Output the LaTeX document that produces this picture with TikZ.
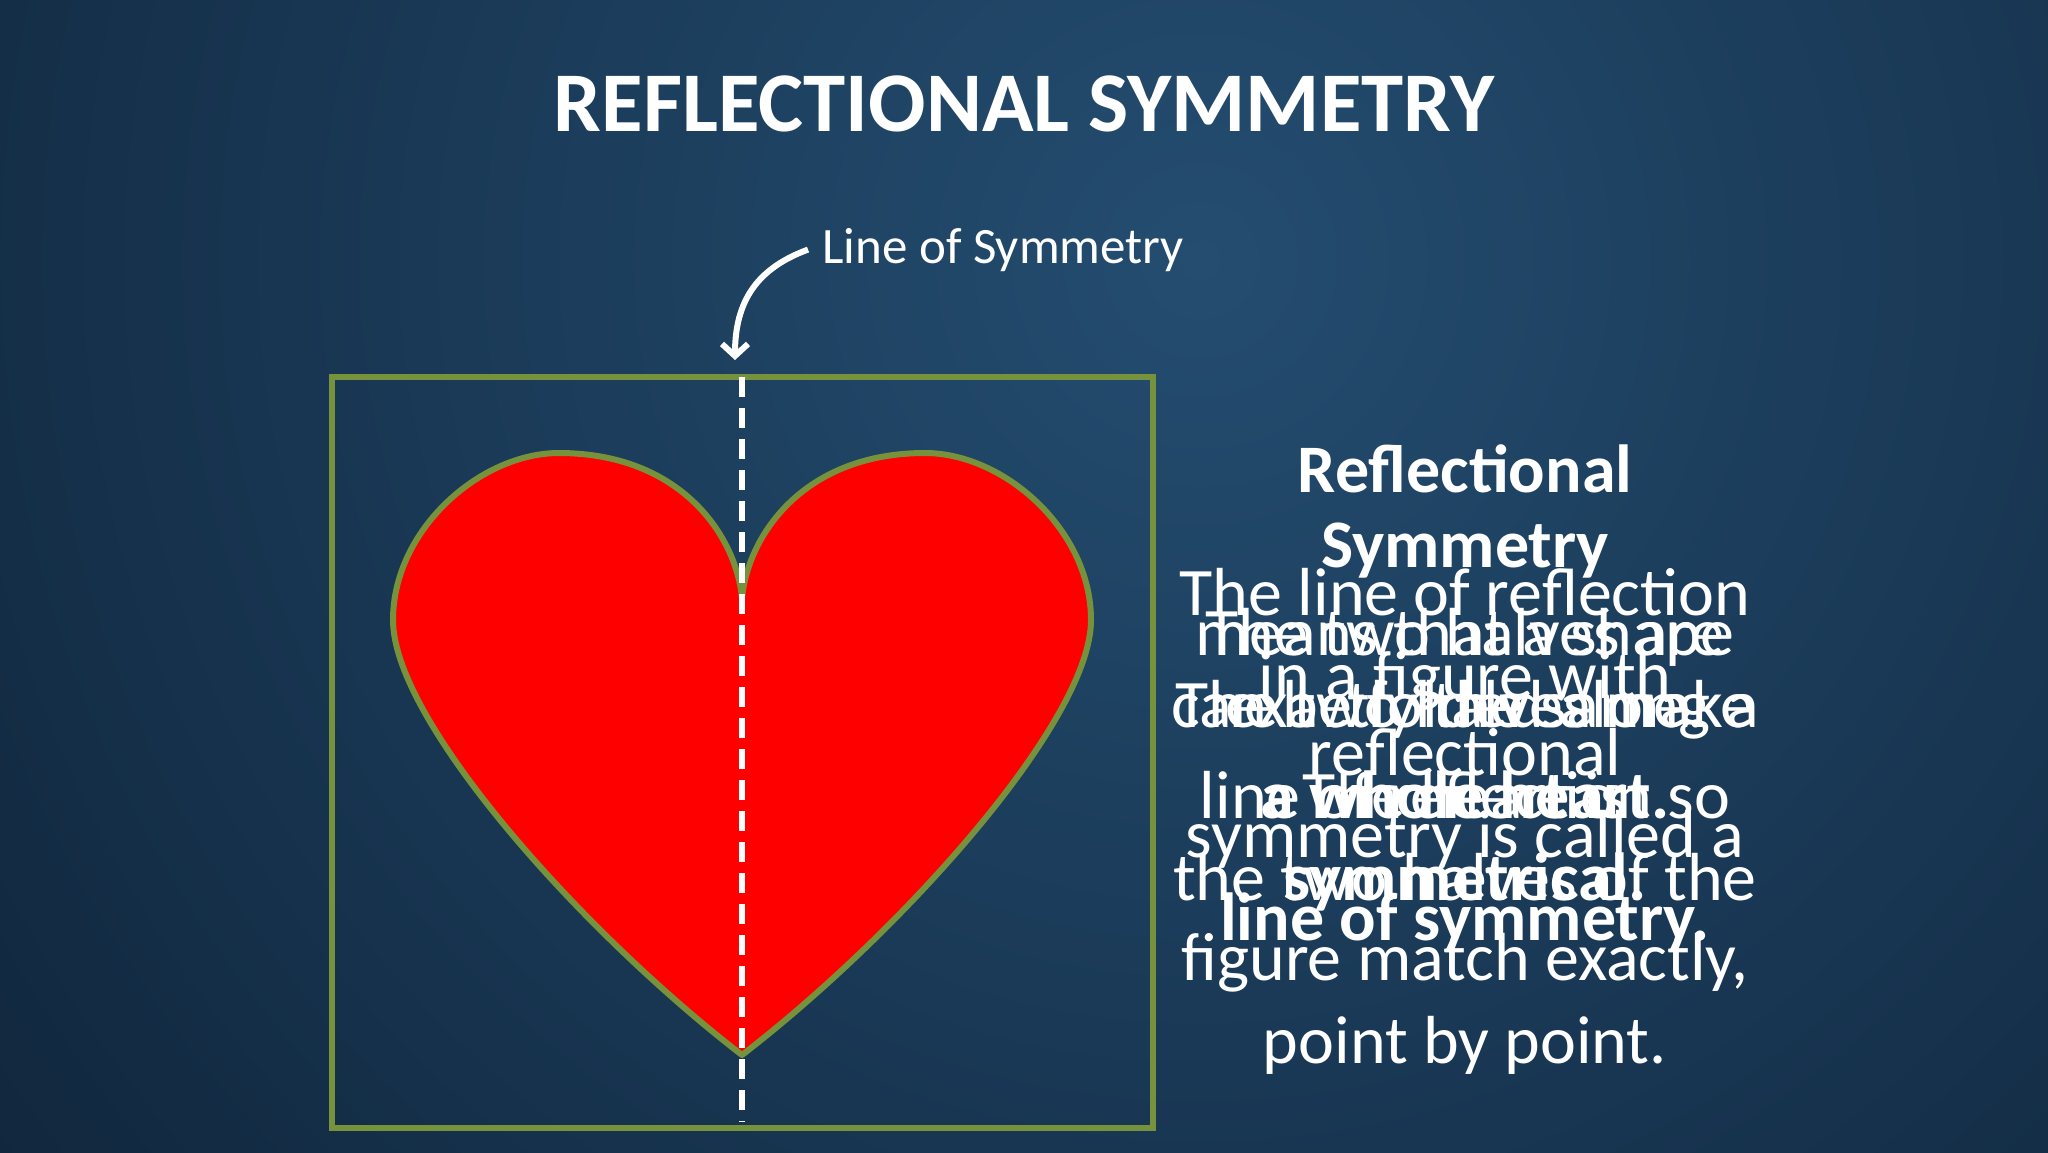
\documentclass[tikz,border=0pt]{standalone}
\usepackage{fontspec}
\setmainfont{Carlito}
\usetikzlibrary{arrows.meta}

\definecolor{bgin}{RGB}{36,77,112}
\definecolor{bgmid}{RGB}{22,50,77}
\definecolor{bgout}{RGB}{9,22,36}
\definecolor{framegreen}{RGB}{118,146,60}
\definecolor{heartred}{RGB}{255,0,0}

\pgfdeclareradialshading{slidebg}{\pgfpoint{0bp}{0bp}}{color(0bp)=(bgin); color(12bp)=(bgmid); color(25bp)=(bgout); color(50bp)=(bgout)}

\begin{document}
\begin{tikzpicture}[x=0.5pt, y=-0.5pt,
  slidetitle/.style={text=white, anchor=base, inner sep=0pt, font=\fontsize{42.5}{50}\selectfont\bfseries},
  headtxt/.style={text=white, anchor=base, inner sep=0pt, font=\fontsize{34}{40}\selectfont\bfseries},
  bodytxt/.style={text=white, anchor=base, inner sep=0pt, font=\fontsize{34}{40}\selectfont},
  lbltxt/.style={text=white, anchor=base west, inner xsep=7pt, inner ysep=0pt, font=\fontsize{25.5}{30}\selectfont},
  frameline/.style={draw=framegreen, line width=2.6pt},
  heartshape/.style={fill=heartred, draw=framegreen, line width=3pt, line join=round},
  axisline/.style={draw=white, line width=3pt, dash pattern=on 10pt off 5.5pt},
  symarrow/.style={draw=white, line width=3pt, -{Straight Barb[length=6pt, width=13pt]}}
]
\useasboundingbox (0,0) rectangle (2048,1152);
\clip (0,0) rectangle (2048,1152);

% background
\fill[bgout] (0,0) rectangle (2048,1152);
\shade[shading=slidebg] (1200,260) circle (2200);

% title
\node[slidetitle] (title) at (1024,131) {REFLECTIONAL SYMMETRY};

% frame and heart
\draw[frameline] (332,377) rectangle (1153,1128);
\filldraw[heartshape] (742,598) .. controls (736,535) and (680,453) .. (559,453)
  .. controls (480,453) and (393,530) .. (393,620)
  .. controls (393,720) and (580,930) .. (742,1055)
  .. controls (904,930) and (1091,720) .. (1091,620)
  .. controls (1091,530) and (1004,453) .. (925,453)
  .. controls (804,453) and (748,535) .. (742,598) -- cycle;

% line of symmetry
\coordinate (axistop) at (742,377);
\coordinate (axisbot) at (742,1122);
\draw[axisline] (axistop) -- (axisbot);

\node[lbltxt] (lbl) at (808,263) {Line of Symmetry};
\coordinate (tip) at (735,360);
\draw[symarrow] (lbl.west) .. controls (758,268) and (735,300) .. (tip);

% text blocks
\node[headtxt] (headA) at (1465,492) {Reflectional};
\node[headtxt] (headB) at (1465,567) {Symmetry};
\foreach \y/\t [count=\i] in {655/means that a shape, 727/can be folded along a,
    818/line of reflection so, 900/the two halves of the,
    980/{figure match exactly,}, 1063/point by point.}
  \node[bodytxt] (blockA\i) at (1465,\y) {\t};
\foreach \y/\t [count=\i] in {615/The line of reflection, 698/in a figure with,
    775/reflectional, 857/symmetry is called a, 940/{\textbf{line of symmetry.}}}
  \node[bodytxt] (blockB\i) at (1465,\y) {\t};
\foreach \y/\t [count=\i] in {655/The two halves are, 727/exactly the same.,
    818/The heart is, 900/{\textbf{symmetrical.}}}
  \node[bodytxt] (blockC\i) at (1465,\y) {\t};
\foreach \y/\t [count=\i] in {727/The two halves make, 818/{\textbf{a whole heart.}}}
  \node[bodytxt] (blockD\i) at (1465,\y) {\t};

\end{tikzpicture}
\end{document}
